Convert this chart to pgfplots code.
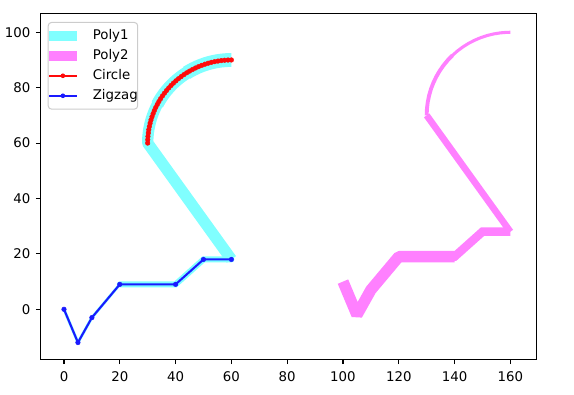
\documentclass[border=0pt]{standalone}
\usepackage{fontspec}
\setmainfont{DejaVu Sans}
\usepackage{pgfplots}
\pgfplotsset{compat=1.18}
\definecolor{polyc}{RGB}{128,255,255}
\definecolor{polym}{RGB}{255,128,255}
\definecolor{zblue}{RGB}{26,26,255}
\definecolor{cred}{RGB}{255,10,10}
\definecolor{legframe}{RGB}{204,204,204}
\begin{document}
\begin{tikzpicture}[font=\fontsize{10}{12}\selectfont]
\useasboundingbox (0,0) rectangle (430.5pt,296.25pt);
\begin{axis}[
  at={(30.525pt,26.775pt)}, anchor=south west,
  scale only axis, width=371.7pt, height=259.5pt,
  xmin=-8.35, xmax=169.3, ymin=-18.05, ymax=106.85,
  xtick={0,20,...,160}, ytick={0,20,...,100},
  tick align=outside, tick pos=left,
  major tick length=3.65pt,
  every tick/.style={black, line width=0.83pt},
  axis line style={line width=0.83pt},
  /pgf/number format/assume math mode=true,
  tick label style={font=\fontsize{10}{12}\selectfont, inner sep=0pt},
  xticklabel style={anchor=north, yshift=-5.15pt},
  yticklabel style={anchor=east, xshift=-3.85pt},
  legend style={
    at={(0,1)}, anchor=north west, xshift=5.25pt, yshift=-6.5pt,
    draw=legframe, line width=0.75pt, rounded corners=2.5pt,
    fill=white, inner xsep=0pt, inner ysep=5pt, row sep=5pt, column sep=0pt,
    font=\fontsize{10}{12}\selectfont,
    nodes={inner sep=0pt, text height=7.6pt, text depth=2.4pt},
  },
  legend cell align=left,
]
% ---------- Poly1 ----------
\addplot[polyc, line width=2.2pt, line join=bevel, line cap=butt,
  legend image code/.code={\path[fill=polyc, draw=none, sharp corners] (0pt,-3.75pt) rectangle (20.5pt,3.75pt); \path (28.4pt,0pt);}]
  coordinates {(0,0) (5,-12) (10,-3) (20,9)};
\addlegendentry{Poly1\hspace{3.75pt}}
\addplot[polyc, line width=4.5pt, line join=miter, line cap=round, forget plot]
  coordinates {(20,9) (40,9) (50,18) (60,18)};
\addplot[polyc, line width=8.5pt, line join=round, line cap=butt, forget plot]
  coordinates {(60,18) (30.00,60.00) (30.02,61.21) (30.10,62.41) (30.22,63.62) (30.39,64.81) (30.61,66.00) (30.87,67.18) (31.18,68.35) (31.54,69.50) (31.95,70.64) (32.40,71.76) (32.90,72.86) (33.44,73.94) (34.02,75.00)};
\addplot[polyc, line width=9.5pt, line join=round, line cap=butt, forget plot]
  coordinates {(33.44,73.94) (34.02,75.00) (34.64,76.03) (35.31,77.04) (36.02,78.02) (36.76,78.97) (37.54,79.89) (38.36,80.78) (39.22,81.64) (40.11,82.46) (41.03,83.24) (41.98,83.98) (42.96,84.69) (43.97,85.36) (45.00,85.98)};
\addplot[polyc, line width=10.4pt, line join=round, line cap=butt, forget plot]
  coordinates {(43.97,85.36) (45.00,85.98) (46.06,86.56) (47.14,87.10) (48.24,87.60) (49.36,88.05) (50.50,88.46) (51.65,88.82) (52.82,89.13) (54.00,89.39) (55.19,89.61) (56.38,89.78) (57.59,89.90) (58.79,89.98) (60.00,90.00)};
% ---------- Poly2 ----------
\addplot[polym, line width=8.5pt, line join=bevel, line cap=butt,
  legend image code/.code={\path[fill=polym, draw=none, sharp corners] (0pt,-3.75pt) rectangle (20.5pt,3.75pt); \path (28.4pt,0pt);}]
  coordinates {(100,10) (105,-2) (110,7) (120,19) (140,19)};
\addlegendentry{Poly2\hspace{3.75pt}}
\addplot[polym, line width=6.4pt, line join=miter, line cap=butt, forget plot]
  coordinates {(132,19) (140,19) (150,28) (160,28)};
\addplot[polym, line width=5pt, line join=miter, line cap=butt, forget plot]
  coordinates {(160,28) (130,70)};
\addplot[polym, line width=2.9pt, line join=round, line cap=butt, forget plot]
  coordinates {(130,70) (130.10,72.41) (130.39,74.81) (130.87,77.18) (131.54,79.50) (132.40,81.76) (133.44,83.94) (134.64,86.03) (136.02,88.02) (137.54,89.89) (139.22,91.64)};
\addplot[polym, line width=2.3pt, line join=round, line cap=butt, forget plot]
  coordinates {(137.54,89.89) (139.22,91.64) (141.03,93.24) (142.96,94.69) (145.00,95.98) (147.14,97.10) (149.36,98.05) (151.65,98.82) (154.00,99.39) (156.38,99.78) (158.79,99.98) (160,100)};
% ---------- Circle ----------
\addplot[cred, line width=1.56pt, mark=*, mark size=1.75pt, mark options={solid, line width=0.3pt},
  legend image code/.code={\draw[cred, line width=1.56pt] (0pt,0pt) -- (20.5pt,0pt); \path[fill=cred, draw=none] (10.25pt,0pt) circle (1.75pt); \path (28.4pt,0pt);}]
  coordinates {(30.00,60.00) (30.02,61.21) (30.10,62.41) (30.22,63.62) (30.39,64.81) (30.61,66.00) (30.87,67.18) (31.18,68.35) (31.54,69.50) (31.95,70.64) (32.40,71.76) (32.90,72.86) (33.44,73.94) (34.02,75.00) (34.64,76.03) (35.31,77.04) (36.02,78.02) (36.76,78.97) (37.54,79.89) (38.36,80.78) (39.22,81.64) (40.11,82.46) (41.03,83.24) (41.98,83.98) (42.96,84.69) (43.97,85.36) (45.00,85.98) (46.06,86.56) (47.14,87.10) (48.24,87.60) (49.36,88.05) (50.50,88.46) (51.65,88.82) (52.82,89.13) (54.00,89.39) (55.19,89.61) (56.38,89.78) (57.59,89.90) (58.79,89.98) (60.00,90.00)};
\addlegendentry{Circle\hspace{3.75pt}}
% ---------- Zigzag ----------
\addplot[zblue, line width=1.56pt, mark=*, mark size=1.75pt, mark options={solid, line width=0.3pt},
  legend image code/.code={\draw[zblue, line width=1.56pt] (0pt,0pt) -- (20.5pt,0pt); \path[fill=zblue, draw=none] (10.25pt,0pt) circle (1.75pt); \path (28.4pt,0pt);}]
  coordinates {(0,0) (5,-12) (10,-3) (20,9) (40,9) (50,18) (60,18)};
\addlegendentry{Zigzag\hspace{3.75pt}}
\end{axis}
\end{tikzpicture}
\end{document}
